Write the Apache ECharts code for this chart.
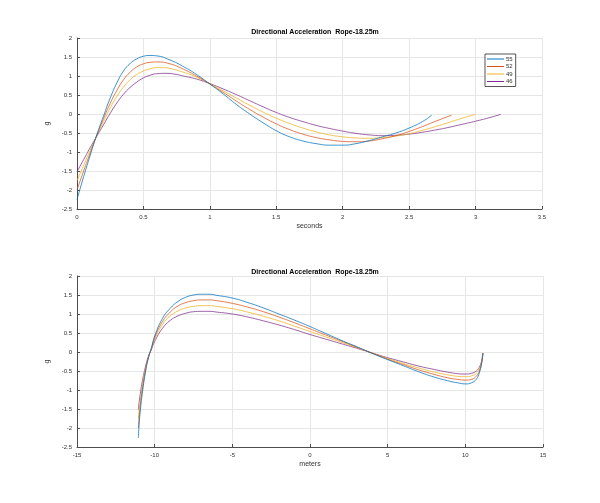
<!DOCTYPE html>
<html>
<head>
<meta charset="utf-8">
<script src="https://cdn.jsdelivr.net/npm/echarts@6/dist/echarts.min.js"></script>
<style>html,body{margin:0;padding:0;background:#fff}#c{width:600px;height:503px}</style>
</head>
<body>
<div id="c"></div>
<script>
const titleText = 'Directional Acceleration  Rope-18.25m';
const seriesNames = ['55', '52', '49', '46'];
const colors = ['#0072BD', '#D95319', '#EDB120', '#7E2F8E'];
const xTicksTop = [0, 0.5, 1, 1.5, 2, 2.5, 3, 3.5];
const yTicks = [-2.5, -2, -1.5, -1, -0.5, 0, 0.5, 1, 1.5, 2];
const xTicksBottom = [-15, -10, -5, 0, 5, 10, 15];

// Top: acceleration (g) vs time (s)
const time55 = [[0,-2.25],[0.05,-1.65],[0.1,-1.08],[0.14,-0.64],[0.2,-0.05],[0.25,0.42],[0.3,0.82],[0.35,1.13],[0.4,1.33],[0.45,1.45],[0.5,1.52],[0.55,1.54],[0.6,1.53],[0.7,1.42],[0.8,1.25],[0.9,1.04],[1.0,0.79],[1.1,0.53],[1.2,0.25],[1.3,0.0],[1.4,-0.23],[1.5,-0.44],[1.6,-0.6],[1.7,-0.71],[1.8,-0.78],[1.9,-0.82],[2.0,-0.82],[2.1,-0.78],[2.2,-0.7],[2.3,-0.6],[2.4,-0.5],[2.5,-0.37],[2.6,-0.2],[2.67,-0.03]];
const time52 = [[0,-2.0],[0.05,-1.5],[0.1,-1.02],[0.14,-0.64],[0.2,-0.12],[0.25,0.28],[0.3,0.62],[0.35,0.9],[0.4,1.1],[0.45,1.24],[0.5,1.32],[0.55,1.36],[0.6,1.37],[0.7,1.32],[0.8,1.18],[0.9,1.0],[1.0,0.79],[1.1,0.57],[1.2,0.34],[1.3,0.12],[1.4,-0.08],[1.5,-0.26],[1.6,-0.41],[1.7,-0.53],[1.8,-0.62],[1.9,-0.68],[2.0,-0.72],[2.1,-0.73],[2.2,-0.71],[2.3,-0.65],[2.4,-0.57],[2.5,-0.46],[2.6,-0.33],[2.7,-0.19],[2.82,-0.03]];
const time49 = [[0,-1.76],[0.05,-1.35],[0.1,-0.95],[0.14,-0.64],[0.2,-0.2],[0.25,0.16],[0.3,0.46],[0.35,0.71],[0.4,0.9],[0.45,1.04],[0.5,1.13],[0.55,1.19],[0.6,1.22],[0.65,1.22],[0.7,1.2],[0.8,1.1],[0.9,0.97],[1.0,0.8],[1.1,0.61],[1.2,0.42],[1.3,0.23],[1.4,0.05],[1.5,-0.11],[1.6,-0.25],[1.7,-0.37],[1.8,-0.47],[1.9,-0.55],[2.0,-0.6],[2.1,-0.63],[2.2,-0.64],[2.3,-0.62],[2.4,-0.58],[2.5,-0.52],[2.6,-0.43],[2.7,-0.33],[2.8,-0.22],[2.9,-0.11],[3.0,-0.01]];
const time46 = [[0,-1.52],[0.05,-1.2],[0.1,-0.88],[0.14,-0.64],[0.2,-0.28],[0.25,0.02],[0.3,0.29],[0.35,0.52],[0.4,0.7],[0.45,0.84],[0.5,0.95],[0.55,1.02],[0.6,1.06],[0.67,1.07],[0.75,1.04],[0.8,1.0],[0.9,0.92],[1.0,0.8],[1.1,0.66],[1.2,0.51],[1.3,0.35],[1.4,0.19],[1.5,0.04],[1.6,-0.09],[1.7,-0.2],[1.8,-0.3],[1.9,-0.38],[2.0,-0.45],[2.1,-0.51],[2.2,-0.55],[2.3,-0.57],[2.4,-0.56],[2.5,-0.53],[2.6,-0.48],[2.7,-0.42],[2.8,-0.35],[2.9,-0.27],[3.0,-0.19],[3.1,-0.1],[3.19,-0.01]];

// Bottom: acceleration (g) vs position (m)
const pos55 = [[-11.05,-2.26],[-11.0,-1.9],[-10.9,-1.45],[-10.8,-1.1],[-10.6,-0.55],[-10.4,-0.15],[-10.2,0.12],[-10.0,0.42],[-9.5,0.88],[-9.0,1.15],[-8.5,1.33],[-8.0,1.44],[-7.5,1.5],[-7.0,1.52],[-6.5,1.52],[-6.0,1.49],[-5.0,1.42],[-4.0,1.3],[-3.0,1.16],[-2.0,1.0],[-1.0,0.84],[0.0,0.67],[1.0,0.49],[2.0,0.31],[3.0,0.14],[3.8,0.0],[4.5,-0.12],[5.0,-0.2],[6.0,-0.36],[7.0,-0.52],[8.0,-0.66],[9.0,-0.77],[9.5,-0.81],[10.0,-0.84],[10.4,-0.81],[10.7,-0.72],[10.9,-0.55],[11.05,-0.3],[11.13,-0.03]];
const pos52 = [[-11.05,-2.0],[-11.0,-1.72],[-10.9,-1.32],[-10.8,-1.0],[-10.6,-0.5],[-10.4,-0.14],[-10.2,0.1],[-10.0,0.38],[-9.5,0.8],[-9.0,1.05],[-8.5,1.21],[-8.0,1.3],[-7.5,1.35],[-7.0,1.37],[-6.5,1.37],[-6.0,1.35],[-5.0,1.28],[-4.0,1.18],[-3.0,1.06],[-2.0,0.92],[-1.0,0.77],[0.0,0.61],[1.0,0.45],[2.0,0.29],[3.0,0.13],[3.8,0.0],[4.5,-0.11],[5.0,-0.19],[6.0,-0.33],[7.0,-0.47],[8.0,-0.59],[9.0,-0.69],[9.5,-0.72],[10.0,-0.74],[10.4,-0.72],[10.7,-0.64],[10.9,-0.5],[11.05,-0.28],[11.13,-0.03]];
const pos49 = [[-11.05,-1.76],[-11.0,-1.52],[-10.9,-1.18],[-10.8,-0.9],[-10.6,-0.45],[-10.4,-0.13],[-10.2,0.09],[-10.0,0.33],[-9.5,0.72],[-9.0,0.95],[-8.5,1.08],[-8.0,1.16],[-7.5,1.2],[-7.0,1.22],[-6.5,1.22],[-6.0,1.2],[-5.0,1.14],[-4.0,1.05],[-3.0,0.94],[-2.0,0.82],[-1.0,0.68],[0.0,0.54],[1.0,0.4],[2.0,0.26],[3.0,0.12],[3.8,0.0],[4.5,-0.1],[5.0,-0.17],[6.0,-0.3],[7.0,-0.42],[8.0,-0.53],[9.0,-0.61],[9.5,-0.64],[10.0,-0.65],[10.4,-0.63],[10.7,-0.56],[10.9,-0.44],[11.05,-0.25],[11.13,-0.03]];
const pos46 = [[-11.05,-1.52],[-11.0,-1.32],[-10.9,-1.03],[-10.8,-0.78],[-10.6,-0.4],[-10.4,-0.11],[-10.2,0.08],[-10.0,0.28],[-9.5,0.62],[-9.0,0.83],[-8.5,0.95],[-8.0,1.02],[-7.5,1.06],[-7.0,1.07],[-6.5,1.07],[-6.0,1.05],[-5.0,1.0],[-4.0,0.92],[-3.0,0.82],[-2.0,0.71],[-1.0,0.59],[0.0,0.46],[1.0,0.34],[2.0,0.22],[3.0,0.1],[3.8,0.0],[4.5,-0.09],[5.0,-0.15],[6.0,-0.26],[7.0,-0.37],[8.0,-0.46],[9.0,-0.54],[9.5,-0.57],[10.0,-0.58],[10.4,-0.56],[10.7,-0.5],[10.9,-0.4],[11.05,-0.23],[11.13,-0.03]];

const topData = [time55, time52, time49, time46];
const bottomData = [pos55, pos52, pos49, pos46];

const FONT = '"Liberation Sans", Arial, sans-serif';
const axisColor = '#4d4d4d';
const gridColor = '#e6e6e6';

function valAxis(gridIndex, ticks, name, nameGap) {
  return {
    type: 'value', gridIndex,
    min: ticks[0], max: ticks[ticks.length - 1], interval: ticks[1] - ticks[0],
    name, nameLocation: 'middle', nameGap,
    nameTextStyle: { fontFamily: FONT, fontSize: 7, color: '#333' },
    axisLine: { show: true, onZero: false, lineStyle: { color: axisColor, width: 1 } },
    axisTick: { show: true, inside: true, length: 3, lineStyle: { color: axisColor } },
    axisLabel: { fontFamily: FONT, fontSize: 6, color: '#333', margin: 5 },
    splitLine: { show: true, lineStyle: { color: gridColor, width: 1 } }
  };
}

const grids = [
  { left: 77, right: 58, top: 38, height: 171 },
  { left: 77, right: 57, top: 276, height: 171 }
];

function lineSeries(n, i, axisIdx, data) {
  return {
    name: n, type: 'line', xAxisIndex: axisIdx, yAxisIndex: axisIdx, data,
    showSymbol: false, smooth: 0.5,
    lineStyle: { color: colors[i], width: 0.9, opacity: 0.85 }, itemStyle: { color: colors[i] },
    z: 10 - i
  };
}
const series = [];
seriesNames.forEach((n, i) => series.push(lineSeries(n, i, 0, topData[i])));
seriesNames.forEach((n, i) => series.push(lineSeries(n, i, 1, bottomData[i])));

const chart = echarts.init(document.getElementById('c'), null, { renderer: 'canvas' });
chart.setOption({
  animation: false,
  backgroundColor: '#fff',
  title: [
    { text: titleText, left: 310, top: 24, textAlign: 'center',
      textStyle: { fontFamily: FONT, fontSize: 7, fontWeight: 'bold', color: '#000' } },
    { text: titleText, left: 310, top: 264, textAlign: 'center',
      textStyle: { fontFamily: FONT, fontSize: 7, fontWeight: 'bold', color: '#000' } }
  ],
  legend: {
    data: seriesNames, orient: 'vertical', left: 485, top: 54,
    itemWidth: 17, itemHeight: 1, itemGap: 1.5,
    padding: [2, 3, 2, 2],
    borderColor: '#555', borderWidth: 1, backgroundColor: '#fff',
    icon: 'rect',
    textStyle: { fontFamily: FONT, fontSize: 6, color: '#333', padding: [0, 0, 0, -3] }
  },
  grid: grids,
  xAxis: [
    valAxis(0, xTicksTop, 'seconds', 14),
    valAxis(1, xTicksBottom, 'meters', 14)
  ],
  yAxis: [
    valAxis(0, yTicks, 'g', 14),
    valAxis(1, yTicks, 'g', 14)
  ],
  series
});
</script>
</body>
</html>
